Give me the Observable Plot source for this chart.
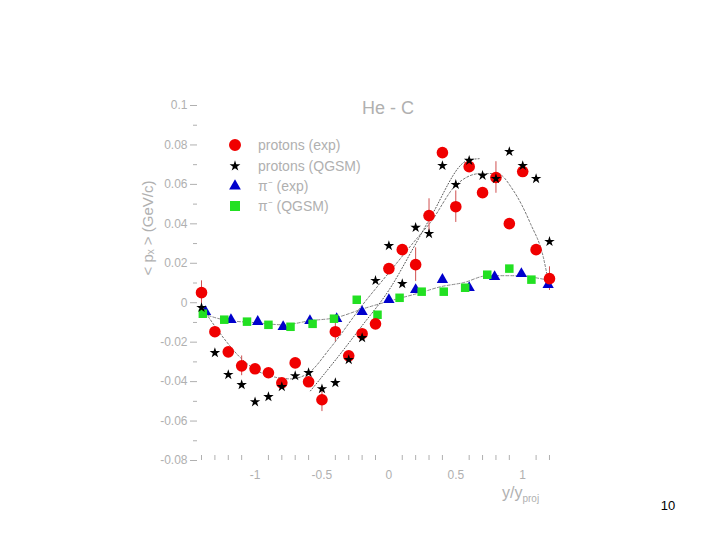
<!DOCTYPE html>
<html>
<head>
<meta charset="utf-8">
<script src="https://cdn.jsdelivr.net/npm/d3@7"></script>
<script src="https://cdn.jsdelivr.net/npm/@observablehq/plot@0.6"></script>
<style>
  html, body { margin: 0; padding: 0; background: white; }
</style>
</head>
<body>
<div id="chart"></div>
<script>
// ---- data ----
const protonX = [-1.4,-1.3,-1.2,-1.1,-1.0,-0.9,-0.8,-0.7,-0.6,-0.5,-0.4,-0.3,-0.2,-0.1,0.0,0.1,0.2,0.3,0.4,0.5,0.6,0.7,0.8,0.9,1.0,1.1,1.2];
const protonExp = [0.0051,-0.0147,-0.0249,-0.032,-0.0335,-0.0355,-0.0406,-0.0305,-0.0401,-0.0492,-0.0147,-0.0269,-0.0157,-0.0107,0.0173,0.0269,0.0193,0.0442,0.0761,0.0487,0.069,0.0558,0.0635,0.0401,0.0665,0.0269,0.0122];
const protonExpErr = [0.006,0,0,0.005,0,0,0,0,0,0.006,0.005,0,0,0,0,0,0.0085,0.0085,0,0.008,0,0,0.008,0,0,0,0.006];
const protonModel = [-0.0025,-0.0254,-0.0365,-0.0416,-0.0503,-0.0477,-0.0426,-0.0371,-0.0355,-0.0437,-0.0406,-0.0289,-0.0178,0.0112,0.0289,0.0096,0.0381,0.035,0.0695,0.0599,0.0721,0.0645,0.0629,0.0766,0.0695,0.0629,0.031];

const pionExpX = [-1.37,-1.18,-0.98,-0.79,-0.59,-0.39,-0.2,0.0,0.2,0.4,0.6,0.79,0.99,1.19];
const pionExp = [-0.0046,-0.0086,-0.0096,-0.0122,-0.0091,-0.0081,-0.0046,0.0015,0.0066,0.0117,0.0076,0.0132,0.0147,0.0091];

const pionModelX = [-1.39,-1.23,-1.06,-0.9,-0.735,-0.57,-0.41,-0.24,-0.085,0.08,0.245,0.41,0.57,0.735,0.9,1.065];
const pionModel = [-0.0056,-0.0086,-0.0096,-0.0112,-0.0122,-0.0107,-0.0081,0.0015,-0.0061,0.0025,0.0056,0.0056,0.0076,0.0142,0.0173,0.0117];

const curveAX = [-1.40,-1.236,-1.109,-0.937,-0.735,-0.608,-0.436,-0.19,0.012,0.214,0.31,0.498,0.685,0.81,0.93,1.058,1.155,1.19];
const curveAY = [-0.002,-0.0178,-0.0279,-0.036,-0.0386,-0.036,-0.0228,-0.0005,0.0162,0.033,0.0406,0.0594,0.0655,0.0655,0.0569,0.0401,0.0228,0.0112];
const curveBX = [-0.586,-0.362,-0.212,0.012,0.184,0.31,0.587,0.685];
const curveBY = [-0.0447,-0.0259,-0.0127,0.0076,0.0279,0.0431,0.0721,0.0731];
const pionCurveX = [-1.386,-1.236,-0.982,-0.788,-0.586,-0.399,-0.19,0.012,0.236,0.386,0.558,0.737,0.984,1.133,1.208];
const pionCurveY = [-0.0056,-0.0086,-0.0102,-0.0112,-0.0091,-0.0076,-0.003,0.001,0.0051,0.0081,0.0102,0.0137,0.0137,0.0122,0.0112];

const yMajorTicks = [-0.08,-0.06,-0.04,-0.02,0,0.02,0.04,0.06,0.08,0.1];
const yMajorLabels = ["-0.08","-0.06","-0.04","-0.02","0","0.02","0.04","0.06","0.08","0.1"];
const yMinorTicks = [-0.07,-0.05,-0.03,-0.01,0.01,0.03,0.05,0.07,0.09];
const xMajorTicks = [-1,-0.5,0,0.5,1];
const xMajorLabels = ["-1","-0.5","0","0.5","1"];
const xMinorTicks = [-1.4,-1.3,-1.2,-1.1,-0.9,-0.8,-0.7,-0.6,-0.4,-0.3,-0.2,-0.1,0.1,0.2,0.3,0.4,0.6,0.7,0.8,0.9,1.1,1.2];

const legendLabels = ["protons (exp)", "protons (QGSM)", "π⁻ (exp)", "π⁻ (QGSM)"];

// ---- tables ----
const protons = protonX.map((x, i) => ({x, exp: protonExp[i], err: protonExpErr[i], model: protonModel[i]}));
const pionsExp = pionExpX.map((x, i) => ({x, y: pionExp[i]}));
const pionsModel = pionModelX.map((x, i) => ({x, y: pionModel[i]}));
const curveA = curveAX.map((x, i) => ({x, y: curveAY[i]}));
const curveB = curveBX.map((x, i) => ({x, y: curveBY[i]}));
const pionCurve = pionCurveX.map((x, i) => ({x, y: pionCurveY[i]}));

const axisGray = "#b0b0b0";

const chart = Plot.plot({
  width: 720,
  height: 540,
  marginLeft: 197,
  marginRight: 165,
  marginTop: 105,
  marginBottom: 80,
  style: {background: "white", fontFamily: "Liberation Sans, Arial, sans-serif", fontSize: "12px", color: axisGray},
  x: {domain: [-1.43, 1.245]},
  y: {domain: [-0.08, 0.1]},
  marks: [
    Plot.axisY({ticks: yMajorTicks, tickSize: 7, tickPadding: 3, tickFormat: d => yMajorLabels[yMajorTicks.findIndex(t => Math.abs(t - d) < 1e-9)], label: null, fontSize: 12}),
    Plot.axisY({ticks: yMinorTicks, tickSize: 4, tickFormat: () => "", label: null}),
    Plot.axisX({ticks: xMajorTicks, tickSize: 0, tickPadding: 10, tickFormat: d => xMajorLabels[xMajorTicks.findIndex(t => Math.abs(t - d) < 1e-9)], label: null, fontSize: 12}),
    Plot.axisX({ticks: xMinorTicks, tickSize: -5, tickFormat: () => "", label: null}),
    Plot.line(pionCurve, {x: "x", y: "y", curve: "monotone-x", stroke: "#8a8a8a", strokeWidth: 1, strokeDasharray: "3,2"}),
    Plot.line(curveA, {x: "x", y: "y", curve: "monotone-x", stroke: "#777", strokeWidth: 1, strokeDasharray: "2,2"}),
    Plot.line(curveB, {x: "x", y: "y", curve: "monotone-x", stroke: "#555", strokeWidth: 1, strokeDasharray: "1,2"}),
    Plot.ruleX(protons.filter(d => d.err > 0), {x: "x", y1: d => d.exp - d.err, y2: d => d.exp + d.err, stroke: "#d05050", strokeWidth: 1}),
    Plot.dot(pionsExp, {x: "x", y: "y", symbol: "triangle", r: 4.2, fill: "#0000cc", stroke: "none"}),
    Plot.dot(pionsModel, {x: "x", y: "y", symbol: "square", r: 4.8, fill: "#22e022", stroke: "none"}),
    Plot.dot(protons, {x: "x", y: "exp", symbol: "circle", r: 5.8, fill: "#f00000", stroke: "none"}),
    Plot.dot(protons, {x: "x", y: "model", symbol: "star", r: 3.3, fill: "black", stroke: "none"})
  ]
});

document.getElementById("chart").appendChild(chart);

// ---- annotations in pixel space ----
const svg = d3.select(chart);
const font = "Liberation Sans, Arial, sans-serif";

svg.append("text").attr("x", 388).attr("y", 114).attr("text-anchor", "middle")
  .attr("font-family", font).attr("font-size", 18).attr("fill", axisGray).text("He - C");

const legendSymbols = [
  {sym: d3.symbolCircle, size: 113, fill: "#f00000"},
  {sym: d3.symbolStar, size: 36, fill: "black"},
  {sym: d3.symbolTriangle, size: 60, fill: "#0000cc"},
  {sym: d3.symbolSquare, size: 100, fill: "#22e022"}
];
const legendRows = [145, 166, 186, 206];
legendSymbols.forEach((s, i) => {
  svg.append("path").attr("d", d3.symbol(s.sym, s.size)())
    .attr("transform", `translate(235,${legendRows[i]})`).attr("fill", s.fill);
  svg.append("text").attr("x", 258).attr("y", legendRows[i] + 5).attr("text-anchor", "start")
    .attr("font-family", font).attr("font-size", 14).attr("fill", axisGray).text(legendLabels[i]);
});

svg.append("text").attr("transform", "translate(153,228) rotate(-90)").attr("text-anchor", "middle")
  .attr("font-family", font).attr("font-size", 15).attr("fill", axisGray).text("< pₓ > (GeV/c)");

const xl = svg.append("text").attr("x", 502).attr("y", 498).attr("text-anchor", "start")
  .attr("font-family", font).attr("font-size", 16).attr("fill", axisGray);
xl.append("tspan").text("y/y");
xl.append("tspan").attr("font-size", 10).attr("dy", 4).text("proj");

svg.append("text").attr("x", 668).attr("y", 510).attr("text-anchor", "middle")
  .attr("font-family", font).attr("font-size", 13).attr("fill", "black").text("10");
</script>
</body>
</html>
